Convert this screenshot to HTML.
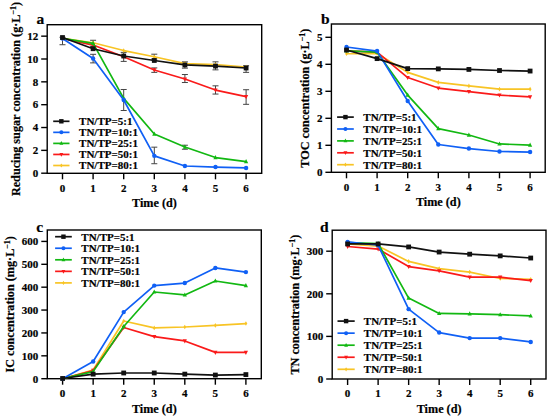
<!DOCTYPE html>
<html><head><meta charset="utf-8"><style>
html,body{margin:0;padding:0;background:#fff;width:550px;height:420px;overflow:hidden}
svg{display:block}
text{font-family:"Liberation Serif",serif;font-weight:bold;fill:#000;stroke:#000;stroke-width:0.2px}
.tk{font-size:11px}
.lg{font-size:11px}
.ti{font-size:12.2px}
.pl{font-size:15.5px}
.sup{font-size:8px}
</style></head><body>
<svg width="550" height="420" viewBox="0 0 550 420">
<rect x="47.2" y="24.7" width="214.5" height="148.60000000000002" fill="none" stroke="#000" stroke-width="1.4"/>
<line x1="41.2" y1="173.20" x2="47.2" y2="173.20" stroke="#000" stroke-width="1.4"/>
<text x="38.2" y="177.00" text-anchor="end" class="tk">0</text>
<line x1="41.2" y1="150.36" x2="47.2" y2="150.36" stroke="#000" stroke-width="1.4"/>
<text x="38.2" y="154.16" text-anchor="end" class="tk">2</text>
<line x1="41.2" y1="127.52" x2="47.2" y2="127.52" stroke="#000" stroke-width="1.4"/>
<text x="38.2" y="131.32" text-anchor="end" class="tk">4</text>
<line x1="41.2" y1="104.68" x2="47.2" y2="104.68" stroke="#000" stroke-width="1.4"/>
<text x="38.2" y="108.48" text-anchor="end" class="tk">6</text>
<line x1="41.2" y1="81.84" x2="47.2" y2="81.84" stroke="#000" stroke-width="1.4"/>
<text x="38.2" y="85.64" text-anchor="end" class="tk">8</text>
<line x1="41.2" y1="59.00" x2="47.2" y2="59.00" stroke="#000" stroke-width="1.4"/>
<text x="38.2" y="62.80" text-anchor="end" class="tk">10</text>
<line x1="41.2" y1="36.16" x2="47.2" y2="36.16" stroke="#000" stroke-width="1.4"/>
<text x="38.2" y="39.96" text-anchor="end" class="tk">12</text>
<line x1="62.50" y1="173.3" x2="62.50" y2="179.3" stroke="#000" stroke-width="1.4"/>
<text x="62.50" y="191.70" text-anchor="middle" class="tk">0</text>
<line x1="93.10" y1="173.3" x2="93.10" y2="179.3" stroke="#000" stroke-width="1.4"/>
<text x="93.10" y="191.70" text-anchor="middle" class="tk">1</text>
<line x1="123.70" y1="173.3" x2="123.70" y2="179.3" stroke="#000" stroke-width="1.4"/>
<text x="123.70" y="191.70" text-anchor="middle" class="tk">2</text>
<line x1="154.30" y1="173.3" x2="154.30" y2="179.3" stroke="#000" stroke-width="1.4"/>
<text x="154.30" y="191.70" text-anchor="middle" class="tk">3</text>
<line x1="184.90" y1="173.3" x2="184.90" y2="179.3" stroke="#000" stroke-width="1.4"/>
<text x="184.90" y="191.70" text-anchor="middle" class="tk">4</text>
<line x1="215.50" y1="173.3" x2="215.50" y2="179.3" stroke="#000" stroke-width="1.4"/>
<text x="215.50" y="191.70" text-anchor="middle" class="tk">5</text>
<line x1="246.10" y1="173.3" x2="246.10" y2="179.3" stroke="#000" stroke-width="1.4"/>
<text x="246.10" y="191.70" text-anchor="middle" class="tk">6</text>
<text x="154.45" y="207.10" text-anchor="middle" class="ti">Time (d)</text>
<text transform="translate(19.80,99.00) rotate(-90)" text-anchor="middle" class="ti">Reducing sugar concentration (<tspan>g</tspan>·L<tspan class="sup" dy="-3.9">−1</tspan><tspan dy="3.9">)</tspan></text>
<text x="40.30" y="23.50" text-anchor="middle" class="pl">a</text>
<path d="M62.50,44.72V37.30M59.50,44.72h6M59.50,37.30h6" stroke="#444" stroke-width="1" fill="none"/>
<path d="M93.10,46.44V40.27M90.10,46.44h6M90.10,40.27h6" stroke="#444" stroke-width="1" fill="none"/>
<path d="M93.10,62.88V54.32M90.10,62.88h6M90.10,54.32h6" stroke="#444" stroke-width="1" fill="none"/>
<path d="M123.70,61.40V52.38M120.70,61.40h6M120.70,52.38h6" stroke="#444" stroke-width="1" fill="none"/>
<path d="M123.70,110.50V89.49M120.70,110.50h6M120.70,89.49h6" stroke="#444" stroke-width="1" fill="none"/>
<path d="M154.30,59.00V54.20M151.30,59.00h6M151.30,54.20h6" stroke="#444" stroke-width="1" fill="none"/>
<path d="M154.30,72.36V67.91M151.30,72.36h6M151.30,67.91h6" stroke="#444" stroke-width="1" fill="none"/>
<path d="M184.90,82.53V74.53M181.90,82.53h6M181.90,74.53h6" stroke="#444" stroke-width="1" fill="none"/>
<path d="M215.50,94.06V85.84M212.50,94.06h6M212.50,85.84h6" stroke="#444" stroke-width="1" fill="none"/>
<path d="M246.10,104.34V89.72M243.10,104.34h6M243.10,89.72h6" stroke="#444" stroke-width="1" fill="none"/>
<path d="M184.90,68.14V61.85M181.90,68.14h6M181.90,61.85h6" stroke="#444" stroke-width="1" fill="none"/>
<path d="M215.50,69.85V61.85M212.50,69.85h6M212.50,61.85h6" stroke="#444" stroke-width="1" fill="none"/>
<path d="M246.10,72.36V65.74M243.10,72.36h6M243.10,65.74h6" stroke="#444" stroke-width="1" fill="none"/>
<path d="M154.30,163.72V147.16M151.30,163.72h6M151.30,147.16h6" stroke="#444" stroke-width="1" fill="none"/>
<path d="M184.90,149.22V145.22M181.90,149.22h6M181.90,145.22h6" stroke="#444" stroke-width="1" fill="none"/>
<path d="M62.50,38.44 L93.10,42.78 L123.70,50.55 L154.30,56.72 L184.90,63.57 L215.50,64.48 L246.10,66.99" fill="none" stroke="#f8c425" stroke-width="1.7" stroke-linejoin="round"/>
<path d="M62.50,36.14 L63.90,38.44 L62.50,40.74 L61.10,38.44Z" fill="#f8c425"/>
<path d="M93.10,40.48 L94.50,42.78 L93.10,45.08 L91.70,42.78Z" fill="#f8c425"/>
<path d="M123.70,48.25 L125.10,50.55 L123.70,52.85 L122.30,50.55Z" fill="#f8c425"/>
<path d="M154.30,54.42 L155.70,56.72 L154.30,59.02 L152.90,56.72Z" fill="#f8c425"/>
<path d="M184.90,61.27 L186.30,63.57 L184.90,65.87 L183.50,63.57Z" fill="#f8c425"/>
<path d="M215.50,62.18 L216.90,64.48 L215.50,66.78 L214.10,64.48Z" fill="#f8c425"/>
<path d="M246.10,64.69 L247.50,66.99 L246.10,69.29 L244.70,66.99Z" fill="#f8c425"/>
<path d="M62.50,38.44 L93.10,45.07 L123.70,56.72 L154.30,69.96 L184.90,78.98 L215.50,90.06 L246.10,96.69" fill="none" stroke="#fa1a1a" stroke-width="1.7" stroke-linejoin="round"/>
<path d="M62.50,40.94 L64.60,36.84 L60.40,36.84Z" fill="#fa1a1a"/>
<path d="M93.10,47.57 L95.20,43.47 L91.00,43.47Z" fill="#fa1a1a"/>
<path d="M123.70,59.22 L125.80,55.12 L121.60,55.12Z" fill="#fa1a1a"/>
<path d="M154.30,72.46 L156.40,68.36 L152.20,68.36Z" fill="#fa1a1a"/>
<path d="M184.90,81.48 L187.00,77.38 L182.80,77.38Z" fill="#fa1a1a"/>
<path d="M215.50,92.56 L217.60,88.46 L213.40,88.46Z" fill="#fa1a1a"/>
<path d="M246.10,99.19 L248.20,95.09 L244.00,95.09Z" fill="#fa1a1a"/>
<path d="M62.50,38.44 L93.10,43.35 L123.70,98.40 L154.30,134.03 L184.90,147.05 L215.50,157.55 L246.10,161.55" fill="none" stroke="#12b812" stroke-width="1.7" stroke-linejoin="round"/>
<path d="M62.50,35.94 L64.60,40.04 L60.40,40.04Z" fill="#12b812"/>
<path d="M93.10,40.85 L95.20,44.95 L91.00,44.95Z" fill="#12b812"/>
<path d="M123.70,95.90 L125.80,100.00 L121.60,100.00Z" fill="#12b812"/>
<path d="M154.30,131.53 L156.40,135.63 L152.20,135.63Z" fill="#12b812"/>
<path d="M184.90,144.55 L187.00,148.65 L182.80,148.65Z" fill="#12b812"/>
<path d="M215.50,155.05 L217.60,159.15 L213.40,159.15Z" fill="#12b812"/>
<path d="M246.10,159.05 L248.20,163.15 L244.00,163.15Z" fill="#12b812"/>
<path d="M62.50,38.44 L93.10,58.54 L123.70,100.00 L154.30,155.84 L184.90,166.01 L215.50,167.03 L246.10,167.95" fill="none" stroke="#1060f5" stroke-width="1.7" stroke-linejoin="round"/>
<circle cx="62.50" cy="38.44" r="2.20" fill="#1060f5"/>
<circle cx="93.10" cy="58.54" r="2.20" fill="#1060f5"/>
<circle cx="123.70" cy="100.00" r="2.20" fill="#1060f5"/>
<circle cx="154.30" cy="155.84" r="2.20" fill="#1060f5"/>
<circle cx="184.90" cy="166.01" r="2.20" fill="#1060f5"/>
<circle cx="215.50" cy="167.03" r="2.20" fill="#1060f5"/>
<circle cx="246.10" cy="167.95" r="2.20" fill="#1060f5"/>
<path d="M62.50,37.53 L93.10,48.72 L123.70,56.03 L154.30,60.48 L184.90,64.94 L215.50,66.08 L246.10,68.02" fill="none" stroke="#111111" stroke-width="1.7" stroke-linejoin="round"/>
<rect x="60.10" y="35.13" width="4.80" height="4.80" fill="#111111"/>
<rect x="90.70" y="46.32" width="4.80" height="4.80" fill="#111111"/>
<rect x="121.30" y="53.63" width="4.80" height="4.80" fill="#111111"/>
<rect x="151.90" y="58.08" width="4.80" height="4.80" fill="#111111"/>
<rect x="182.50" y="62.54" width="4.80" height="4.80" fill="#111111"/>
<rect x="213.10" y="63.68" width="4.80" height="4.80" fill="#111111"/>
<rect x="243.70" y="65.62" width="4.80" height="4.80" fill="#111111"/>
<line x1="53.2" y1="121.30" x2="69.5" y2="121.30" stroke="#111111" stroke-width="1.7"/>
<rect x="59.14" y="119.09" width="4.42" height="4.42" fill="#111111"/>
<text x="79.1" y="125.10" class="lg">TN/TP=5:1</text>
<line x1="53.2" y1="132.35" x2="69.5" y2="132.35" stroke="#1060f5" stroke-width="1.7"/>
<circle cx="61.35" cy="132.35" r="2.02" fill="#1060f5"/>
<text x="79.1" y="136.15" class="lg">TN/TP=10:1</text>
<line x1="53.2" y1="143.40" x2="69.5" y2="143.40" stroke="#12b812" stroke-width="1.7"/>
<path d="M61.35,141.10 L63.28,144.87 L59.42,144.87Z" fill="#12b812"/>
<text x="79.1" y="147.20" class="lg">TN/TP=25:1</text>
<line x1="53.2" y1="154.45" x2="69.5" y2="154.45" stroke="#fa1a1a" stroke-width="1.7"/>
<path d="M61.35,156.75 L63.28,152.98 L59.42,152.98Z" fill="#fa1a1a"/>
<text x="79.1" y="158.25" class="lg">TN/TP=50:1</text>
<line x1="53.2" y1="165.50" x2="69.5" y2="165.50" stroke="#f8c425" stroke-width="1.7"/>
<path d="M61.35,163.38 L62.64,165.50 L61.35,167.62 L60.06,165.50Z" fill="#f8c425"/>
<text x="79.1" y="169.30" class="lg">TN/TP=80:1</text>
<rect x="331.4" y="24.0" width="213.80000000000007" height="148.3" fill="none" stroke="#000" stroke-width="1.4"/>
<line x1="325.4" y1="172.30" x2="331.4" y2="172.30" stroke="#000" stroke-width="1.4"/>
<text x="322.4" y="176.10" text-anchor="end" class="tk">0</text>
<line x1="325.4" y1="145.30" x2="331.4" y2="145.30" stroke="#000" stroke-width="1.4"/>
<text x="322.4" y="149.10" text-anchor="end" class="tk">1</text>
<line x1="325.4" y1="118.30" x2="331.4" y2="118.30" stroke="#000" stroke-width="1.4"/>
<text x="322.4" y="122.10" text-anchor="end" class="tk">2</text>
<line x1="325.4" y1="91.30" x2="331.4" y2="91.30" stroke="#000" stroke-width="1.4"/>
<text x="322.4" y="95.10" text-anchor="end" class="tk">3</text>
<line x1="325.4" y1="64.30" x2="331.4" y2="64.30" stroke="#000" stroke-width="1.4"/>
<text x="322.4" y="68.10" text-anchor="end" class="tk">4</text>
<line x1="325.4" y1="37.30" x2="331.4" y2="37.30" stroke="#000" stroke-width="1.4"/>
<text x="322.4" y="41.10" text-anchor="end" class="tk">5</text>
<line x1="346.50" y1="172.3" x2="346.50" y2="178.3" stroke="#000" stroke-width="1.4"/>
<text x="346.50" y="190.80" text-anchor="middle" class="tk">0</text>
<line x1="377.10" y1="172.3" x2="377.10" y2="178.3" stroke="#000" stroke-width="1.4"/>
<text x="377.10" y="190.80" text-anchor="middle" class="tk">1</text>
<line x1="407.70" y1="172.3" x2="407.70" y2="178.3" stroke="#000" stroke-width="1.4"/>
<text x="407.70" y="190.80" text-anchor="middle" class="tk">2</text>
<line x1="438.30" y1="172.3" x2="438.30" y2="178.3" stroke="#000" stroke-width="1.4"/>
<text x="438.30" y="190.80" text-anchor="middle" class="tk">3</text>
<line x1="468.90" y1="172.3" x2="468.90" y2="178.3" stroke="#000" stroke-width="1.4"/>
<text x="468.90" y="190.80" text-anchor="middle" class="tk">4</text>
<line x1="499.50" y1="172.3" x2="499.50" y2="178.3" stroke="#000" stroke-width="1.4"/>
<text x="499.50" y="190.80" text-anchor="middle" class="tk">5</text>
<line x1="530.10" y1="172.3" x2="530.10" y2="178.3" stroke="#000" stroke-width="1.4"/>
<text x="530.10" y="190.80" text-anchor="middle" class="tk">6</text>
<text x="438.30" y="205.80" text-anchor="middle" class="ti">Time (d)</text>
<text transform="translate(309.30,98.15) rotate(-90)" text-anchor="middle" class="ti">TOC concentration (<tspan>g</tspan>·L<tspan class="sup" dy="-3.9">−1</tspan><tspan dy="3.9">)</tspan></text>
<text x="325.20" y="23.50" text-anchor="middle" class="pl">b</text>
<path d="M346.50,53.77 L377.10,53.50 L407.70,72.40 L438.30,82.39 L468.90,85.90 L499.50,89.14 L530.10,89.14" fill="none" stroke="#f8c425" stroke-width="1.7" stroke-linejoin="round"/>
<path d="M346.50,51.47 L347.90,53.77 L346.50,56.07 L345.10,53.77Z" fill="#f8c425"/>
<path d="M377.10,51.20 L378.50,53.50 L377.10,55.80 L375.70,53.50Z" fill="#f8c425"/>
<path d="M407.70,70.10 L409.10,72.40 L407.70,74.70 L406.30,72.40Z" fill="#f8c425"/>
<path d="M438.30,80.09 L439.70,82.39 L438.30,84.69 L436.90,82.39Z" fill="#f8c425"/>
<path d="M468.90,83.60 L470.30,85.90 L468.90,88.20 L467.50,85.90Z" fill="#f8c425"/>
<path d="M499.50,86.84 L500.90,89.14 L499.50,91.44 L498.10,89.14Z" fill="#f8c425"/>
<path d="M530.10,86.84 L531.50,89.14 L530.10,91.44 L528.70,89.14Z" fill="#f8c425"/>
<path d="M346.50,50.80 L377.10,52.15 L407.70,77.53 L438.30,88.06 L468.90,91.57 L499.50,95.08 L530.10,96.97" fill="none" stroke="#fa1a1a" stroke-width="1.7" stroke-linejoin="round"/>
<path d="M346.50,53.30 L348.60,49.20 L344.40,49.20Z" fill="#fa1a1a"/>
<path d="M377.10,54.65 L379.20,50.55 L375.00,50.55Z" fill="#fa1a1a"/>
<path d="M407.70,80.03 L409.80,75.93 L405.60,75.93Z" fill="#fa1a1a"/>
<path d="M438.30,90.56 L440.40,86.46 L436.20,86.46Z" fill="#fa1a1a"/>
<path d="M468.90,94.07 L471.00,89.97 L466.80,89.97Z" fill="#fa1a1a"/>
<path d="M499.50,97.58 L501.60,93.48 L497.40,93.48Z" fill="#fa1a1a"/>
<path d="M530.10,99.47 L532.20,95.37 L528.00,95.37Z" fill="#fa1a1a"/>
<path d="M346.50,50.80 L377.10,52.15 L407.70,95.08 L438.30,128.56 L468.90,135.04 L499.50,143.95 L530.10,145.03" fill="none" stroke="#12b812" stroke-width="1.7" stroke-linejoin="round"/>
<path d="M346.50,48.30 L348.60,52.40 L344.40,52.40Z" fill="#12b812"/>
<path d="M377.10,49.65 L379.20,53.75 L375.00,53.75Z" fill="#12b812"/>
<path d="M407.70,92.58 L409.80,96.68 L405.60,96.68Z" fill="#12b812"/>
<path d="M438.30,126.06 L440.40,130.16 L436.20,130.16Z" fill="#12b812"/>
<path d="M468.90,132.54 L471.00,136.64 L466.80,136.64Z" fill="#12b812"/>
<path d="M499.50,141.45 L501.60,145.55 L497.40,145.55Z" fill="#12b812"/>
<path d="M530.10,142.53 L532.20,146.63 L528.00,146.63Z" fill="#12b812"/>
<path d="M346.50,47.02 L377.10,51.07 L407.70,101.02 L438.30,144.49 L468.90,148.54 L499.50,151.51 L530.10,152.05" fill="none" stroke="#1060f5" stroke-width="1.7" stroke-linejoin="round"/>
<circle cx="346.50" cy="47.02" r="2.20" fill="#1060f5"/>
<circle cx="377.10" cy="51.07" r="2.20" fill="#1060f5"/>
<circle cx="407.70" cy="101.02" r="2.20" fill="#1060f5"/>
<circle cx="438.30" cy="144.49" r="2.20" fill="#1060f5"/>
<circle cx="468.90" cy="148.54" r="2.20" fill="#1060f5"/>
<circle cx="499.50" cy="151.51" r="2.20" fill="#1060f5"/>
<circle cx="530.10" cy="152.05" r="2.20" fill="#1060f5"/>
<path d="M346.50,49.99 L377.10,58.63 L407.70,68.62 L438.30,68.89 L468.90,69.43 L499.50,70.51 L530.10,71.05" fill="none" stroke="#111111" stroke-width="1.7" stroke-linejoin="round"/>
<rect x="344.10" y="47.59" width="4.80" height="4.80" fill="#111111"/>
<rect x="374.70" y="56.23" width="4.80" height="4.80" fill="#111111"/>
<rect x="405.30" y="66.22" width="4.80" height="4.80" fill="#111111"/>
<rect x="435.90" y="66.49" width="4.80" height="4.80" fill="#111111"/>
<rect x="466.50" y="67.03" width="4.80" height="4.80" fill="#111111"/>
<rect x="497.10" y="68.11" width="4.80" height="4.80" fill="#111111"/>
<rect x="527.70" y="68.65" width="4.80" height="4.80" fill="#111111"/>
<line x1="337.1" y1="117.10" x2="353.8" y2="117.10" stroke="#111111" stroke-width="1.7"/>
<rect x="343.24" y="114.89" width="4.42" height="4.42" fill="#111111"/>
<text x="363.3" y="120.90" class="lg">TN/TP=5:1</text>
<line x1="337.1" y1="129.00" x2="353.8" y2="129.00" stroke="#1060f5" stroke-width="1.7"/>
<circle cx="345.45" cy="129.00" r="2.02" fill="#1060f5"/>
<text x="363.3" y="132.80" class="lg">TN/TP=10:1</text>
<line x1="337.1" y1="140.90" x2="353.8" y2="140.90" stroke="#12b812" stroke-width="1.7"/>
<path d="M345.45,138.60 L347.38,142.37 L343.52,142.37Z" fill="#12b812"/>
<text x="363.3" y="144.70" class="lg">TN/TP=25:1</text>
<line x1="337.1" y1="152.80" x2="353.8" y2="152.80" stroke="#fa1a1a" stroke-width="1.7"/>
<path d="M345.45,155.10 L347.38,151.33 L343.52,151.33Z" fill="#fa1a1a"/>
<text x="363.3" y="156.60" class="lg">TN/TP=50:1</text>
<line x1="337.1" y1="164.70" x2="353.8" y2="164.70" stroke="#f8c425" stroke-width="1.7"/>
<path d="M345.45,162.58 L346.74,164.70 L345.45,166.82 L344.16,164.70Z" fill="#f8c425"/>
<text x="363.3" y="168.50" class="lg">TN/TP=80:1</text>
<rect x="47.3" y="230.0" width="214.0" height="148.7" fill="none" stroke="#000" stroke-width="1.4"/>
<line x1="41.3" y1="378.70" x2="47.3" y2="378.70" stroke="#000" stroke-width="1.4"/>
<text x="38.3" y="382.50" text-anchor="end" class="tk">0</text>
<line x1="41.3" y1="355.82" x2="47.3" y2="355.82" stroke="#000" stroke-width="1.4"/>
<text x="38.3" y="359.62" text-anchor="end" class="tk">100</text>
<line x1="41.3" y1="332.94" x2="47.3" y2="332.94" stroke="#000" stroke-width="1.4"/>
<text x="38.3" y="336.74" text-anchor="end" class="tk">200</text>
<line x1="41.3" y1="310.06" x2="47.3" y2="310.06" stroke="#000" stroke-width="1.4"/>
<text x="38.3" y="313.86" text-anchor="end" class="tk">300</text>
<line x1="41.3" y1="287.18" x2="47.3" y2="287.18" stroke="#000" stroke-width="1.4"/>
<text x="38.3" y="290.98" text-anchor="end" class="tk">400</text>
<line x1="41.3" y1="264.30" x2="47.3" y2="264.30" stroke="#000" stroke-width="1.4"/>
<text x="38.3" y="268.10" text-anchor="end" class="tk">500</text>
<line x1="41.3" y1="241.42" x2="47.3" y2="241.42" stroke="#000" stroke-width="1.4"/>
<text x="38.3" y="245.22" text-anchor="end" class="tk">600</text>
<line x1="62.60" y1="378.7" x2="62.60" y2="384.7" stroke="#000" stroke-width="1.4"/>
<text x="62.60" y="396.70" text-anchor="middle" class="tk">0</text>
<line x1="93.15" y1="378.7" x2="93.15" y2="384.7" stroke="#000" stroke-width="1.4"/>
<text x="93.15" y="396.70" text-anchor="middle" class="tk">1</text>
<line x1="123.70" y1="378.7" x2="123.70" y2="384.7" stroke="#000" stroke-width="1.4"/>
<text x="123.70" y="396.70" text-anchor="middle" class="tk">2</text>
<line x1="154.25" y1="378.7" x2="154.25" y2="384.7" stroke="#000" stroke-width="1.4"/>
<text x="154.25" y="396.70" text-anchor="middle" class="tk">3</text>
<line x1="184.80" y1="378.7" x2="184.80" y2="384.7" stroke="#000" stroke-width="1.4"/>
<text x="184.80" y="396.70" text-anchor="middle" class="tk">4</text>
<line x1="215.35" y1="378.7" x2="215.35" y2="384.7" stroke="#000" stroke-width="1.4"/>
<text x="215.35" y="396.70" text-anchor="middle" class="tk">5</text>
<line x1="245.90" y1="378.7" x2="245.90" y2="384.7" stroke="#000" stroke-width="1.4"/>
<text x="245.90" y="396.70" text-anchor="middle" class="tk">6</text>
<text x="154.30" y="412.50" text-anchor="middle" class="ti">Time (d)</text>
<text transform="translate(13.90,304.35) rotate(-90)" text-anchor="middle" class="ti">IC concentration (<tspan>mg</tspan>·L<tspan class="sup" dy="-3.9">−1</tspan><tspan dy="3.9">)</tspan></text>
<text x="39.80" y="231.60" text-anchor="middle" class="pl">c</text>
<path d="M62.60,378.70 L93.15,370.01 L123.70,321.04 L154.25,327.91 L184.80,326.99 L215.35,325.39 L245.90,323.56" fill="none" stroke="#f8c425" stroke-width="1.7" stroke-linejoin="round"/>
<path d="M62.60,376.40 L64.00,378.70 L62.60,381.00 L61.20,378.70Z" fill="#f8c425"/>
<path d="M93.15,367.71 L94.55,370.01 L93.15,372.31 L91.75,370.01Z" fill="#f8c425"/>
<path d="M123.70,318.74 L125.10,321.04 L123.70,323.34 L122.30,321.04Z" fill="#f8c425"/>
<path d="M154.25,325.61 L155.65,327.91 L154.25,330.21 L152.85,327.91Z" fill="#f8c425"/>
<path d="M184.80,324.69 L186.20,326.99 L184.80,329.29 L183.40,326.99Z" fill="#f8c425"/>
<path d="M215.35,323.09 L216.75,325.39 L215.35,327.69 L213.95,325.39Z" fill="#f8c425"/>
<path d="M245.90,321.26 L247.30,323.56 L245.90,325.86 L244.50,323.56Z" fill="#f8c425"/>
<path d="M62.60,378.70 L93.15,370.46 L123.70,327.45 L154.25,336.60 L184.80,340.95 L215.35,352.39 L245.90,352.39" fill="none" stroke="#fa1a1a" stroke-width="1.7" stroke-linejoin="round"/>
<path d="M62.60,381.20 L64.70,377.10 L60.50,377.10Z" fill="#fa1a1a"/>
<path d="M93.15,372.96 L95.25,368.86 L91.05,368.86Z" fill="#fa1a1a"/>
<path d="M123.70,329.95 L125.80,325.85 L121.60,325.85Z" fill="#fa1a1a"/>
<path d="M154.25,339.10 L156.35,335.00 L152.15,335.00Z" fill="#fa1a1a"/>
<path d="M184.80,343.45 L186.90,339.35 L182.70,339.35Z" fill="#fa1a1a"/>
<path d="M215.35,354.89 L217.45,350.79 L213.25,350.79Z" fill="#fa1a1a"/>
<path d="M245.90,354.89 L248.00,350.79 L243.80,350.79Z" fill="#fa1a1a"/>
<path d="M62.60,378.70 L93.15,371.61 L123.70,326.53 L154.25,291.98 L184.80,294.96 L215.35,281.00 L245.90,285.58" fill="none" stroke="#12b812" stroke-width="1.7" stroke-linejoin="round"/>
<path d="M62.60,376.20 L64.70,380.30 L60.50,380.30Z" fill="#12b812"/>
<path d="M93.15,369.11 L95.25,373.21 L91.05,373.21Z" fill="#12b812"/>
<path d="M123.70,324.03 L125.80,328.13 L121.60,328.13Z" fill="#12b812"/>
<path d="M154.25,289.48 L156.35,293.58 L152.15,293.58Z" fill="#12b812"/>
<path d="M184.80,292.46 L186.90,296.56 L182.70,296.56Z" fill="#12b812"/>
<path d="M215.35,278.50 L217.45,282.60 L213.25,282.60Z" fill="#12b812"/>
<path d="M245.90,283.08 L248.00,287.18 L243.80,287.18Z" fill="#12b812"/>
<path d="M62.60,378.70 L93.15,361.54 L123.70,312.12 L154.25,285.58 L184.80,283.06 L215.35,267.96 L245.90,272.08" fill="none" stroke="#1060f5" stroke-width="1.7" stroke-linejoin="round"/>
<circle cx="62.60" cy="378.70" r="2.20" fill="#1060f5"/>
<circle cx="93.15" cy="361.54" r="2.20" fill="#1060f5"/>
<circle cx="123.70" cy="312.12" r="2.20" fill="#1060f5"/>
<circle cx="154.25" cy="285.58" r="2.20" fill="#1060f5"/>
<circle cx="184.80" cy="283.06" r="2.20" fill="#1060f5"/>
<circle cx="215.35" cy="267.96" r="2.20" fill="#1060f5"/>
<circle cx="245.90" cy="272.08" r="2.20" fill="#1060f5"/>
<path d="M62.60,378.47 L93.15,374.12 L123.70,372.98 L154.25,372.98 L184.80,374.12 L215.35,375.04 L245.90,374.58" fill="none" stroke="#111111" stroke-width="1.7" stroke-linejoin="round"/>
<rect x="60.20" y="376.07" width="4.80" height="4.80" fill="#111111"/>
<rect x="90.75" y="371.72" width="4.80" height="4.80" fill="#111111"/>
<rect x="121.30" y="370.58" width="4.80" height="4.80" fill="#111111"/>
<rect x="151.85" y="370.58" width="4.80" height="4.80" fill="#111111"/>
<rect x="182.40" y="371.72" width="4.80" height="4.80" fill="#111111"/>
<rect x="212.95" y="372.64" width="4.80" height="4.80" fill="#111111"/>
<rect x="243.50" y="372.18" width="4.80" height="4.80" fill="#111111"/>
<line x1="55.1" y1="236.70" x2="71.8" y2="236.70" stroke="#111111" stroke-width="1.7"/>
<rect x="61.24" y="234.49" width="4.42" height="4.42" fill="#111111"/>
<text x="81.3" y="240.50" class="lg">TN/TP=5:1</text>
<line x1="55.1" y1="248.25" x2="71.8" y2="248.25" stroke="#1060f5" stroke-width="1.7"/>
<circle cx="63.45" cy="248.25" r="2.02" fill="#1060f5"/>
<text x="81.3" y="252.05" class="lg">TN/TP=10:1</text>
<line x1="55.1" y1="259.80" x2="71.8" y2="259.80" stroke="#12b812" stroke-width="1.7"/>
<path d="M63.45,257.50 L65.38,261.27 L61.52,261.27Z" fill="#12b812"/>
<text x="81.3" y="263.60" class="lg">TN/TP=25:1</text>
<line x1="55.1" y1="271.35" x2="71.8" y2="271.35" stroke="#fa1a1a" stroke-width="1.7"/>
<path d="M63.45,273.65 L65.38,269.88 L61.52,269.88Z" fill="#fa1a1a"/>
<text x="81.3" y="275.15" class="lg">TN/TP=50:1</text>
<line x1="55.1" y1="282.90" x2="71.8" y2="282.90" stroke="#f8c425" stroke-width="1.7"/>
<path d="M63.45,280.78 L64.74,282.90 L63.45,285.02 L62.16,282.90Z" fill="#f8c425"/>
<text x="81.3" y="286.70" class="lg">TN/TP=80:1</text>
<rect x="332.2" y="230.2" width="213.8" height="148.8" fill="none" stroke="#000" stroke-width="1.4"/>
<line x1="326.2" y1="379.00" x2="332.2" y2="379.00" stroke="#000" stroke-width="1.4"/>
<text x="323.2" y="382.80" text-anchor="end" class="tk">0</text>
<line x1="326.2" y1="336.40" x2="332.2" y2="336.40" stroke="#000" stroke-width="1.4"/>
<text x="323.2" y="340.20" text-anchor="end" class="tk">100</text>
<line x1="326.2" y1="293.80" x2="332.2" y2="293.80" stroke="#000" stroke-width="1.4"/>
<text x="323.2" y="297.60" text-anchor="end" class="tk">200</text>
<line x1="326.2" y1="251.20" x2="332.2" y2="251.20" stroke="#000" stroke-width="1.4"/>
<text x="323.2" y="255.00" text-anchor="end" class="tk">300</text>
<line x1="347.60" y1="379.0" x2="347.60" y2="385.0" stroke="#000" stroke-width="1.4"/>
<text x="347.60" y="396.70" text-anchor="middle" class="tk">0</text>
<line x1="378.12" y1="379.0" x2="378.12" y2="385.0" stroke="#000" stroke-width="1.4"/>
<text x="378.12" y="396.70" text-anchor="middle" class="tk">1</text>
<line x1="408.64" y1="379.0" x2="408.64" y2="385.0" stroke="#000" stroke-width="1.4"/>
<text x="408.64" y="396.70" text-anchor="middle" class="tk">2</text>
<line x1="439.16" y1="379.0" x2="439.16" y2="385.0" stroke="#000" stroke-width="1.4"/>
<text x="439.16" y="396.70" text-anchor="middle" class="tk">3</text>
<line x1="469.68" y1="379.0" x2="469.68" y2="385.0" stroke="#000" stroke-width="1.4"/>
<text x="469.68" y="396.70" text-anchor="middle" class="tk">4</text>
<line x1="500.20" y1="379.0" x2="500.20" y2="385.0" stroke="#000" stroke-width="1.4"/>
<text x="500.20" y="396.70" text-anchor="middle" class="tk">5</text>
<line x1="530.72" y1="379.0" x2="530.72" y2="385.0" stroke="#000" stroke-width="1.4"/>
<text x="530.72" y="396.70" text-anchor="middle" class="tk">6</text>
<text x="439.10" y="412.50" text-anchor="middle" class="ti">Time (d)</text>
<text transform="translate(298.80,304.60) rotate(-90)" text-anchor="middle" class="ti">TN concentration (<tspan>mg</tspan>·L<tspan class="sup" dy="-3.9">−1</tspan><tspan dy="3.9">)</tspan></text>
<text x="324.20" y="231.70" text-anchor="middle" class="pl">d</text>
<path d="M347.60,243.96 L378.12,246.09 L408.64,261.42 L439.16,268.67 L469.68,272.07 L500.20,278.46 L530.72,279.32" fill="none" stroke="#f8c425" stroke-width="1.7" stroke-linejoin="round"/>
<path d="M347.60,241.66 L349.00,243.96 L347.60,246.26 L346.20,243.96Z" fill="#f8c425"/>
<path d="M378.12,243.79 L379.52,246.09 L378.12,248.39 L376.72,246.09Z" fill="#f8c425"/>
<path d="M408.64,259.12 L410.04,261.42 L408.64,263.72 L407.24,261.42Z" fill="#f8c425"/>
<path d="M439.16,266.37 L440.56,268.67 L439.16,270.97 L437.76,268.67Z" fill="#f8c425"/>
<path d="M469.68,269.77 L471.08,272.07 L469.68,274.37 L468.28,272.07Z" fill="#f8c425"/>
<path d="M500.20,276.16 L501.60,278.46 L500.20,280.76 L498.80,278.46Z" fill="#f8c425"/>
<path d="M530.72,277.02 L532.12,279.32 L530.72,281.62 L529.32,279.32Z" fill="#f8c425"/>
<path d="M347.60,246.51 L378.12,249.07 L408.64,266.54 L439.16,270.80 L469.68,277.19 L500.20,277.19 L530.72,280.59" fill="none" stroke="#fa1a1a" stroke-width="1.7" stroke-linejoin="round"/>
<path d="M347.60,249.01 L349.70,244.91 L345.50,244.91Z" fill="#fa1a1a"/>
<path d="M378.12,251.57 L380.22,247.47 L376.02,247.47Z" fill="#fa1a1a"/>
<path d="M408.64,269.04 L410.74,264.94 L406.54,264.94Z" fill="#fa1a1a"/>
<path d="M439.16,273.30 L441.26,269.20 L437.06,269.20Z" fill="#fa1a1a"/>
<path d="M469.68,279.69 L471.78,275.59 L467.58,275.59Z" fill="#fa1a1a"/>
<path d="M500.20,279.69 L502.30,275.59 L498.10,275.59Z" fill="#fa1a1a"/>
<path d="M530.72,283.09 L532.82,278.99 L528.62,278.99Z" fill="#fa1a1a"/>
<path d="M347.60,242.68 L378.12,243.53 L408.64,298.06 L439.16,313.40 L469.68,313.82 L500.20,314.67 L530.72,315.95" fill="none" stroke="#12b812" stroke-width="1.7" stroke-linejoin="round"/>
<path d="M347.60,240.18 L349.70,244.28 L345.50,244.28Z" fill="#12b812"/>
<path d="M378.12,241.03 L380.22,245.13 L376.02,245.13Z" fill="#12b812"/>
<path d="M408.64,295.56 L410.74,299.66 L406.54,299.66Z" fill="#12b812"/>
<path d="M439.16,310.90 L441.26,315.00 L437.06,315.00Z" fill="#12b812"/>
<path d="M469.68,311.32 L471.78,315.42 L467.58,315.42Z" fill="#12b812"/>
<path d="M500.20,312.17 L502.30,316.27 L498.10,316.27Z" fill="#12b812"/>
<path d="M530.72,313.45 L532.82,317.55 L528.62,317.55Z" fill="#12b812"/>
<path d="M347.60,241.83 L378.12,245.24 L408.64,309.14 L439.16,332.57 L469.68,338.10 L500.20,338.10 L530.72,341.94" fill="none" stroke="#1060f5" stroke-width="1.7" stroke-linejoin="round"/>
<circle cx="347.60" cy="241.83" r="2.20" fill="#1060f5"/>
<circle cx="378.12" cy="245.24" r="2.20" fill="#1060f5"/>
<circle cx="408.64" cy="309.14" r="2.20" fill="#1060f5"/>
<circle cx="439.16" cy="332.57" r="2.20" fill="#1060f5"/>
<circle cx="469.68" cy="338.10" r="2.20" fill="#1060f5"/>
<circle cx="500.20" cy="338.10" r="2.20" fill="#1060f5"/>
<circle cx="530.72" cy="341.94" r="2.20" fill="#1060f5"/>
<path d="M347.60,243.96 L378.12,243.96 L408.64,246.94 L439.16,252.05 L469.68,254.18 L500.20,255.89 L530.72,258.02" fill="none" stroke="#111111" stroke-width="1.7" stroke-linejoin="round"/>
<rect x="345.20" y="241.56" width="4.80" height="4.80" fill="#111111"/>
<rect x="375.72" y="241.56" width="4.80" height="4.80" fill="#111111"/>
<rect x="406.24" y="244.54" width="4.80" height="4.80" fill="#111111"/>
<rect x="436.76" y="249.65" width="4.80" height="4.80" fill="#111111"/>
<rect x="467.28" y="251.78" width="4.80" height="4.80" fill="#111111"/>
<rect x="497.80" y="253.49" width="4.80" height="4.80" fill="#111111"/>
<rect x="528.32" y="255.62" width="4.80" height="4.80" fill="#111111"/>
<line x1="337.5" y1="321.10" x2="354.7" y2="321.10" stroke="#111111" stroke-width="1.7"/>
<rect x="343.89" y="318.89" width="4.42" height="4.42" fill="#111111"/>
<text x="363.8" y="324.90" class="lg">TN/TP=5:1</text>
<line x1="337.5" y1="333.15" x2="354.7" y2="333.15" stroke="#1060f5" stroke-width="1.7"/>
<circle cx="346.10" cy="333.15" r="2.02" fill="#1060f5"/>
<text x="363.8" y="336.95" class="lg">TN/TP=10:1</text>
<line x1="337.5" y1="345.20" x2="354.7" y2="345.20" stroke="#12b812" stroke-width="1.7"/>
<path d="M346.10,342.90 L348.03,346.67 L344.17,346.67Z" fill="#12b812"/>
<text x="363.8" y="349.00" class="lg">TN/TP=25:1</text>
<line x1="337.5" y1="357.25" x2="354.7" y2="357.25" stroke="#fa1a1a" stroke-width="1.7"/>
<path d="M346.10,359.55 L348.03,355.78 L344.17,355.78Z" fill="#fa1a1a"/>
<text x="363.8" y="361.05" class="lg">TN/TP=50:1</text>
<line x1="337.5" y1="369.30" x2="354.7" y2="369.30" stroke="#f8c425" stroke-width="1.7"/>
<path d="M346.10,367.18 L347.39,369.30 L346.10,371.42 L344.81,369.30Z" fill="#f8c425"/>
<text x="363.8" y="373.10" class="lg">TN/TP=80:1</text>
</svg>
</body></html>
